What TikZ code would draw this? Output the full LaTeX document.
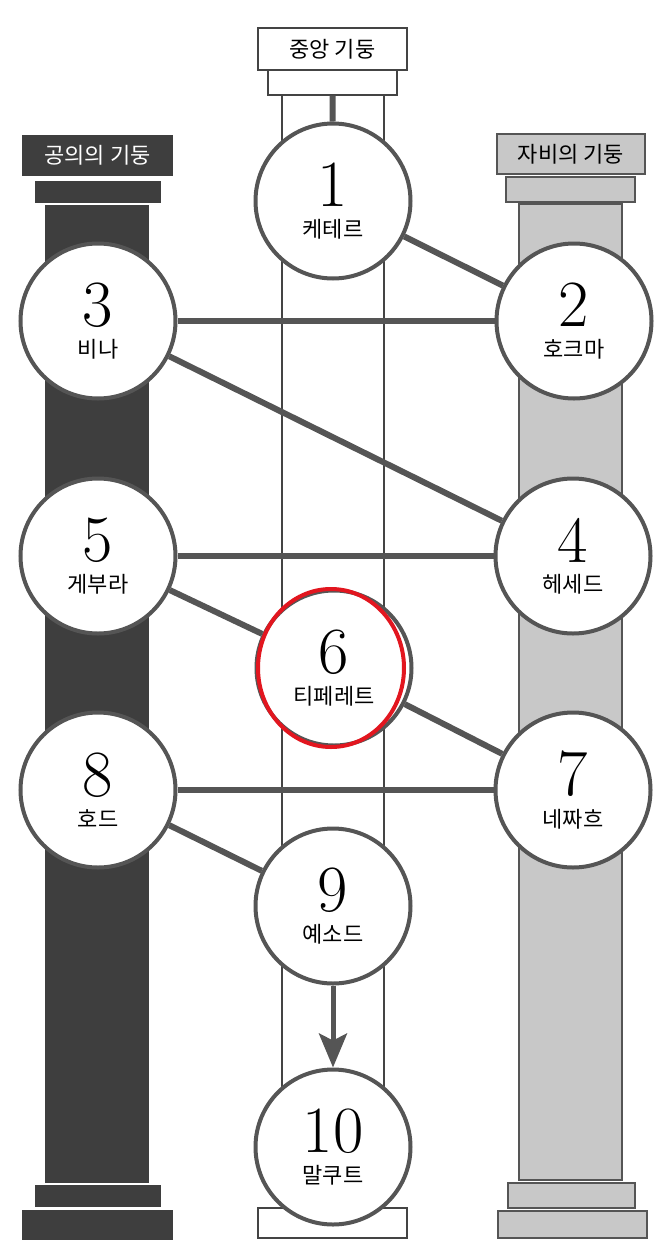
\documentclass[tikz,border=0pt]{standalone}
\usepackage{fontspec}
\newfontfamily\kr{Noto Sans CJK KR}
\usetikzlibrary{positioning,arrows.meta}
\definecolor{ink}{HTML}{555555}
\definecolor{severe}{HTML}{3E3E3E}
\definecolor{mercy}{HTML}{C8C8C8}
\definecolor{circled}{HTML}{E2161F}

\begin{document}
\begin{tikzpicture}[x=1pt,y=-1pt,
  sefira/.style={circle,draw=ink,line width=4pt,fill=white,minimum size=155pt,inner sep=0pt,align=center},
  bar/.style={draw=ink,line width=6pt},
  shaft/.style={draw=ink!80!black,line width=1.6pt},
  lbl/.style={inner sep=0pt,font=\kr\fontsize{22}{22}\selectfont},
  ]
\useasboundingbox (0,0) rectangle (659,1256);
% pillar of severity
\node[lbl,fill=severe,text=white,minimum width=151pt,minimum height=41pt] (severity) at (97.5,155.5) {공의의 기둥};
\fill[severe] (35,181) rectangle (161,203);
\fill[severe] (45,205) rectangle (149,1183);
\fill[severe] (35,1185) rectangle (161,1207);
\fill[severe] (22,1210) rectangle (173,1240);
% pillar of mercy
\node[lbl,fill=mercy,draw=ink,line width=1.2pt,minimum width=148pt,minimum height=40pt] (mercy) at (571,154) {자비의 기둥};
\filldraw[fill=mercy,draw=ink,line width=1.2pt] (506,177) rectangle (635,202);
\filldraw[fill=mercy,draw=ink,line width=1.2pt] (519,204) rectangle (622,1180);
\filldraw[fill=mercy,draw=ink,line width=1.2pt] (508,1183) rectangle (635,1208);
\filldraw[fill=mercy,draw=ink,line width=1.2pt] (498,1211) rectangle (647,1238);
% middle pillar
\node[lbl,fill=white,draw=ink!80!black,line width=1.2pt,minimum width=149pt,minimum height=42pt] (middle) at (332.5,49) {중앙 기둥};
\node[draw=ink!80!black,line width=1.2pt,fill=white,minimum width=129pt,minimum height=25pt,inner sep=0pt] (midcap) at (332.5,82.5) {};
\draw[shaft] (282,95) -- (282,1208);
\draw[shaft] (384,95) -- (384,1208);
\filldraw[fill=white,draw=ink!80!black,line width=1.2pt] (258,1208) rectangle (407,1238);

\node[sefira] (s1) at (333,201) {{\fontsize{66}{66}\selectfont 1}\\[11pt]{\kr\fontsize{22}{22}\selectfont 케테르}};
\node[sefira] (s2) at (574,321) {{\fontsize{66}{66}\selectfont 2}\\[11pt]{\kr\fontsize{22}{22}\selectfont 호크마}};
\node[sefira] (s3) at (98,321) {{\fontsize{66}{66}\selectfont 3}\\[11pt]{\kr\fontsize{22}{22}\selectfont 비나}};
\node[sefira] (s4) at (573,556) {{\fontsize{66}{66}\selectfont 4}\\[11pt]{\kr\fontsize{22}{22}\selectfont 헤세드}};
\node[sefira] (s5) at (98,556) {{\fontsize{66}{66}\selectfont 5}\\[11pt]{\kr\fontsize{22}{22}\selectfont 게부라}};
\node[sefira] (s6) at (334,668) {{\fontsize{66}{66}\selectfont 6}\\[11pt]{\kr\fontsize{22}{22}\selectfont 티페레트}};
\node[sefira] (s7) at (573,790) {{\fontsize{66}{66}\selectfont 7}\\[11pt]{\kr\fontsize{22}{22}\selectfont 네짜흐}};
\node[sefira] (s8) at (98,790) {{\fontsize{66}{66}\selectfont 8}\\[11pt]{\kr\fontsize{22}{22}\selectfont 호드}};
\node[sefira] (s9) at (333,906) {{\fontsize{66}{66}\selectfont 9}\\[11pt]{\kr\fontsize{22}{22}\selectfont 예소드}};
\node[sefira] (s10) at (333,1147) {{\fontsize{66}{66}\selectfont 10}\\[11pt]{\kr\fontsize{22}{22}\selectfont 말쿠트}};

\draw[bar] (midcap.south) -- (s1);
\draw[bar] (s1) -- (s2);
\draw[bar] (s3) -- (s2);
\draw[bar] (s3) -- (s4);
\draw[bar] (s5) -- (s4);
\draw[bar] (s5) -- (s6);
\draw[bar] (s6) -- (s7);
\draw[bar] (s8) -- (s7);
\draw[bar] (s8) -- (s9);
\draw[bar,line width=5pt,-{Stealth[length=34pt,width=28pt,inset=7pt]}] (s9) -- (s10);

\draw[circled,line width=4pt] ([xshift=-3pt]s6.center) ellipse [x radius=73, y radius=79];
\end{tikzpicture}
\end{document}
